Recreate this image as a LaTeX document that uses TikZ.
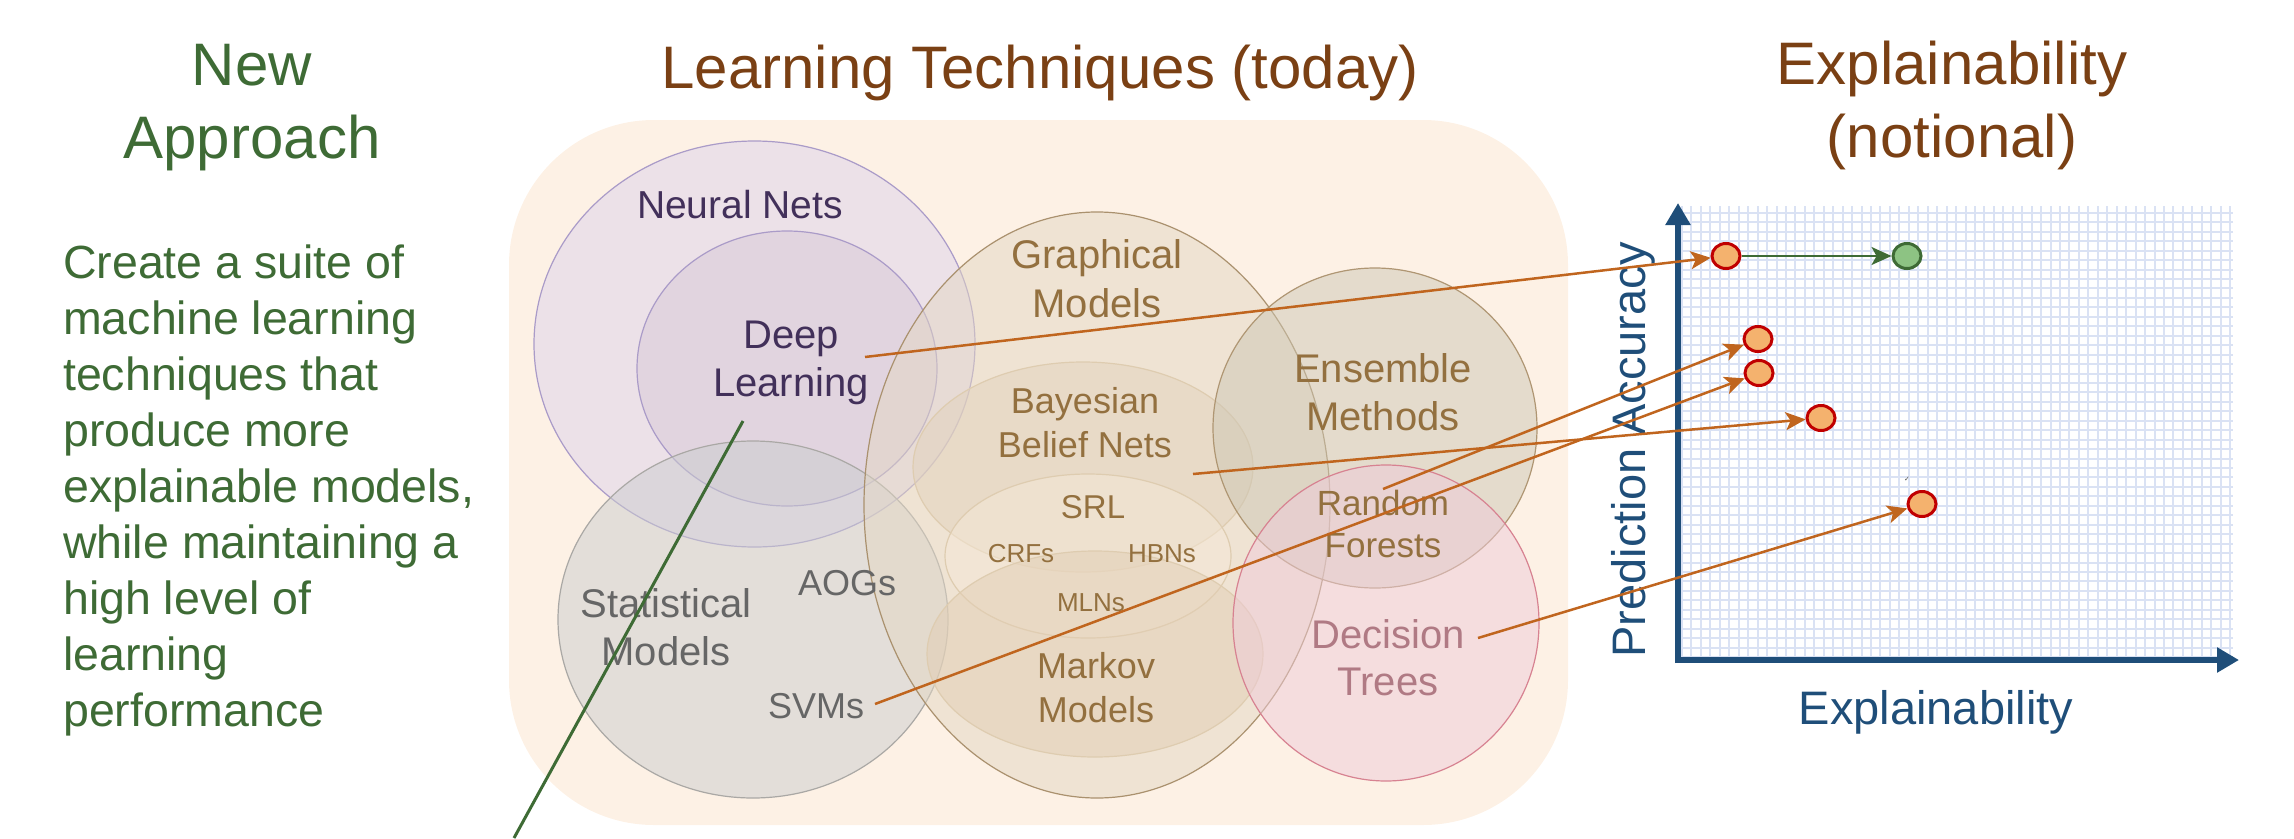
\documentclass[tikz,border=0pt]{standalone}
\usepackage{fontspec}
\setmainfont{Liberation Sans}
\newfontfamily\dejavu{DejaVu Sans}
\usetikzlibrary{shapes.geometric,arrows.meta}

\definecolor{bgpeach}{RGB}{253,241,229}
\definecolor{titlebrown}{RGB}{122,64,20}
\definecolor{newgreen}{RGB}{62,107,53}
\definecolor{nnfill}{RGB}{221,211,235}
\definecolor{nnline}{RGB}{170,155,200}
\definecolor{dlfill}{RGB}{215,200,216}
\definecolor{nntext}{RGB}{66,48,90}
\definecolor{stfill}{RGB}{203,205,207}
\definecolor{stline}{RGB}{170,168,165}
\definecolor{sttext}{RGB}{102,102,102}
\definecolor{gmfill}{RGB}{227,215,195}
\definecolor{gmline}{RGB}{170,145,110}
\definecolor{gmtext}{RGB}{147,112,63}
\definecolor{bbfill}{RGB}{226,210,188}
\definecolor{bbline}{RGB}{222,204,176}
\definecolor{srlfill}{RGB}{245,232,215}
\definecolor{mkfill}{RGB}{226,206,180}
\definecolor{emfill}{RGB}{205,199,181}
\definecolor{emline}{RGB}{175,150,115}
\definecolor{dtfill}{RGB}{239,203,217}
\definecolor{dtline}{RGB}{215,130,145}
\definecolor{dttext}{RGB}{176,122,132}
\definecolor{arrorange}{RGB}{192,101,30}
\definecolor{dotred}{RGB}{192,0,0}
\definecolor{dotorange}{RGB}{244,178,110}
\definecolor{dotgreenfill}{RGB}{141,195,131}
\definecolor{axisblue}{RGB}{31,78,121}
\definecolor{gridblue}{RGB}{218,226,244}

\newcommand\fsz[2]{\fontsize{#1}{#2}\selectfont}

\begin{document}
\begin{tikzpicture}[x=1pt,y=-1pt,
  title/.style={text=titlebrown, font=\fsz{60}{73}, align=center, anchor=base, inner sep=0pt},
  lbl/.style={align=center, anchor=base, inner sep=0pt},
  venn/.style={line width=1.2pt, fill opacity=0.5},
  oarrow/.style={draw=arrorange, line width=2.5pt, -{Stealth[length=20pt,width=18pt,inset=5pt]}},
  garrow/.style={draw=newgreen, line width=2pt, -{Stealth[length=20pt,width=18pt,inset=5pt]}},
  dot/.style={ellipse, minimum width=28pt, minimum height=25pt, inner sep=0pt, line width=3pt, draw=dotred, fill=dotorange},
  axisline/.style={draw=axisblue, line width=6pt, -{Triangle[length=22pt,width=24pt]}},
  gridline/.style={draw=gridblue, line width=2pt}
]
\useasboundingbox (0,0) rectangle (2294,838);

% titles (base anchor = baseline of last line)
\node[title, text=newgreen] (tnew) at (252,158) {New\\Approach};
\node[title] (tlearn) at (1040,88) {Learning Techniques (today)};
\node[title] (texpl) at (1952,157) {Explainability\\(notional)};

% body text
\node[anchor=base west, align=left, text=newgreen, font=\fsz{46.5}{56}, inner sep=0pt] (body) at (63,726)
 {Create a suite of\\machine learning\\techniques that\\produce more\\explainable models,\\while maintaining a\\high level of\\learning\\performance};

% background panel
\fill[bgpeach, rounded corners=145] (509,120) rectangle (1568,825);

% Venn regions
\path[venn, draw=nnline, fill=nnfill] (754.5,344) ellipse [x radius=220.5, y radius=203];
\path[venn, draw=nnline, fill=dlfill] (787,368.5) ellipse [x radius=150, y radius=137.5];
\path[venn, draw=stline, fill=stfill] (753,619.5) ellipse [x radius=195, y radius=178.5];
\path[venn, draw=gmline, fill=gmfill] (1097,505) ellipse [x radius=233, y radius=293];
\path[venn, draw=bbline, fill=bbfill] (1083,467) ellipse [x radius=170, y radius=105];
\path[venn, draw=bbline, fill=srlfill] (1088,556) ellipse [x radius=143, y radius=82];
\path[venn, draw=bbline, fill=mkfill] (1095,654) ellipse [x radius=168, y radius=103];
\path[venn, draw=emline, fill=emfill] (1375,428) ellipse [x radius=162, y radius=160];
\path[venn, draw=dtline, fill=dtfill] (1386,623) ellipse [x radius=153, y radius=158];

% Venn labels
\node[lbl, text=nntext, font=\fsz{39}{47}] (nn) at (740,218) {Neural Nets};
\node[lbl, text=nntext, font=\fsz{40}{48}] (dl) at (791,396) {Deep\\Learning};
\node[lbl, text=sttext, font=\fsz{40}{48}] (sm) at (666,665) {Statistical\\Models};
\node[lbl, text=sttext, font=\fsz{36}{43}] (aog) at (847,595) {AOGs};
\node[lbl, text=sttext, font=\fsz{36}{43}] (svm) at (816,718) {SVMs};
\node[lbl, text=gmtext, font=\fsz{40}{49}] (gm) at (1097,317) {Graphical\\Models};
\node[lbl, text=gmtext, font=\fsz{36}{44}] (bbn) at (1085,457) {Bayesian\\Belief Nets};
\node[lbl, text=gmtext, font=\fsz{33}{40}] (srl) at (1093,518) {SRL};
\node[lbl, text=gmtext, font=\fsz{26}{31}] (crf) at (1021,562) {CRFs};
\node[lbl, text=gmtext, font=\fsz{26}{31}] (hbn) at (1162,562) {HBNs};
\node[lbl, text=gmtext, font=\fsz{26}{31}] (mln) at (1091,611) {MLNs};
\node[lbl, text=gmtext, font=\fsz{36}{44}] (mm) at (1096,722) {Markov\\Models};
\node[lbl, text=gmtext, font=\fsz{40}{48}] (em) at (1383,430) {Ensemble\\Methods};
\node[lbl, text=gmtext, font=\fsz{35}{42}] (rf) at (1383,557) {Random\\Forests};
\node[lbl, text=dttext, font=\fsz{40}{47}] (dt) at (1388,695) {Decision\\Trees};

% plot grid and axes
\foreach \i in {0,...,58} \draw[gridline] ({1682+9.45*\i},206) -- ({1682+9.45*\i},657);
\foreach \j in {0,...,47} \draw[gridline] (1681,{657-9.45*\j}) -- (2233,{657-9.45*\j});
\coordinate (ybot) at (1678,663);
\coordinate (ytop) at (1678,203);
\coordinate (xleft) at (1675,660);
\coordinate (xright) at (2239,660);
\draw[axisline] (ybot) -- (ytop);
\draw[axisline] (xleft) -- (xright);
\node[rotate=90, anchor=base, font=\fsz{47}{56}, text=axisblue, inner sep=0pt] (ylab) at (1645,450) {Prediction Accuracy};
\node[anchor=base, font=\fsz{47}{56}, text=axisblue, inner sep=0pt] (xlab) at (1936,724) {Explainability};

% dots
\node[dot] (d1) at (1726,256) {};
\node[dot, draw=newgreen, fill=dotgreenfill] (d2) at (1907,256) {};
\node[dot] (d3) at (1758,339) {};
\node[dot] (d4) at (1759,373) {};
\node[dot] (d5) at (1821,418) {};
\node[dot] (d6) at (1922,504) {};
\node[font=\dejavu\fsz{7}{8}, text=black!70, inner sep=0pt] (chk) at (1907,479) {✓};

% connectors
\coordinate (cdl) at (865,357);
\coordinate (cbbn) at (1193,474);
\coordinate (crf) at (1383,489);
\coordinate (csvm) at (875,704);
\coordinate (cdt) at (1478,638);
\coordinate (cg1) at (743,421);
\coordinate (cg2) at (514,838);

\draw[newgreen, line width=3pt] (cg1) -- (cg2);
\draw[oarrow] (cdl) -- (d1);
\draw[oarrow] (cbbn) -- (d5);
\draw[oarrow] (crf) -- (d3);
\draw[oarrow] (csvm) -- (d4);
\draw[oarrow] (cdt) -- (d6);
\draw[garrow] (d1) -- (d2);
\end{tikzpicture}
\end{document}
